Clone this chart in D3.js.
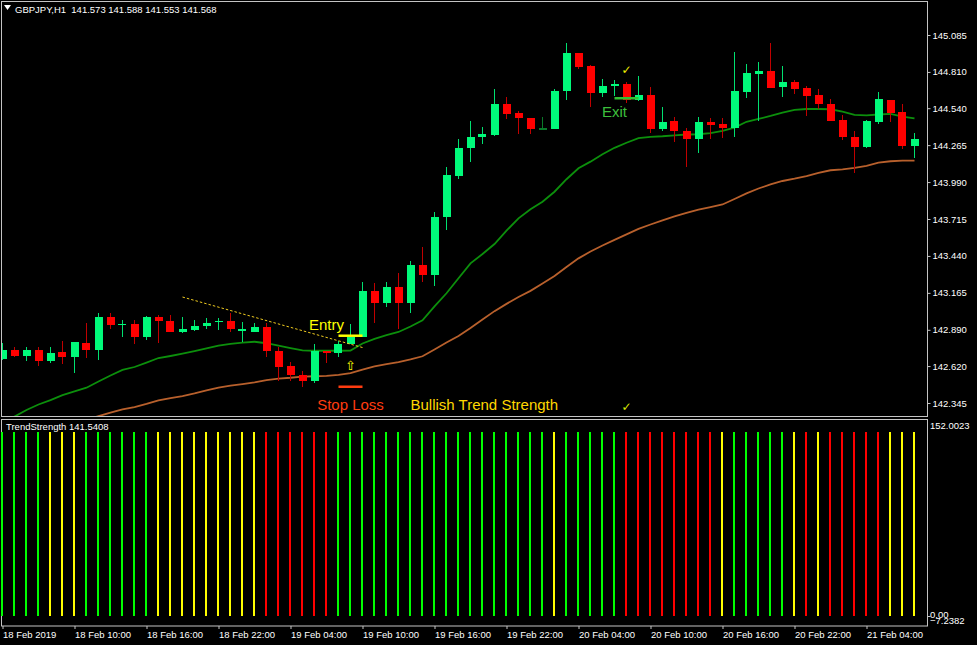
<!DOCTYPE html>
<html><head><meta charset="utf-8">
<script src="https://cdn.jsdelivr.net/npm/d3@7"></script>
<style>html,body{margin:0;padding:0;background:#000;overflow:hidden}
text{font-family:"Liberation Sans",Arial,sans-serif}</style>
</head><body><svg id="c" width="977" height="645"></svg>
<script>
// ---------- DATA ----------
const symbolHeader = "GBPJPY,H1  141.573 141.588 141.553 141.568";
const indicatorName = "TrendStrength 141.5408";
const times = d3.timeHour.range(new Date(2019,1,18,4), new Date(2019,1,21,9)); // 77 hourly candles
const timeTickLabels = ["18 Feb 2019","18 Feb 10:00","18 Feb 16:00","18 Feb 22:00","19 Feb 04:00","19 Feb 10:00",
  "19 Feb 16:00","19 Feb 22:00","20 Feb 04:00","20 Feb 10:00","20 Feb 16:00","20 Feb 22:00","21 Feb 04:00"];
const priceTicks = [142.345,142.620,142.890,143.165,143.440,143.715,143.990,144.265,144.540,144.810,145.085];

const openP = [142.675,142.740,142.697,142.737,142.660,142.727,142.690,142.794,142.737,142.985,
142.928,142.933,142.839,142.988,142.958,142.876,142.889,142.918,142.946,142.956,
142.886,142.876,142.913,142.734,142.621,142.554,142.511,142.734,142.720,142.782,
142.839,143.179,143.092,143.209,143.087,143.373,143.298,143.728,144.037,144.241,
144.326,144.340,144.571,144.502,144.467,144.389,144.387,144.666,144.949,144.854,
144.655,144.708,144.720,144.601,144.636,144.385,144.445,144.372,144.311,144.437,
144.422,144.390,144.663,144.795,144.819,144.700,144.733,144.690,144.636,144.571,
144.452,144.328,144.249,144.440,144.601,144.512,144.261];
const highP = [142.792,142.762,142.762,142.762,142.760,142.807,142.797,142.943,143.015,143.015,
142.961,142.961,142.993,143.000,143.000,142.985,142.961,142.976,142.980,143.017,
142.948,142.938,142.938,142.764,142.652,142.585,142.784,142.734,142.807,142.931,
143.244,143.236,143.244,143.311,143.402,143.503,143.765,144.100,144.309,144.445,
144.400,144.685,144.623,144.521,144.467,144.472,144.681,145.023,144.949,144.864,
144.757,144.752,144.733,144.780,144.698,144.547,144.472,144.390,144.472,144.465,
144.465,144.956,144.869,144.886,145.023,144.854,144.750,144.708,144.683,144.609,
144.489,144.370,144.452,144.661,144.601,144.571,144.353];
const lowP = [142.665,142.688,142.660,142.621,142.645,142.635,142.566,142.680,142.665,142.894,
142.834,142.784,142.814,142.790,142.874,142.864,142.879,142.894,142.889,142.871,
142.801,142.876,142.690,142.511,142.511,142.466,142.496,142.645,142.690,142.782,
142.839,142.943,143.062,142.894,143.013,143.248,143.218,143.633,144.013,144.142,
144.276,144.333,144.462,144.350,144.348,144.387,144.387,144.601,144.830,144.551,
144.626,144.631,144.576,144.596,144.358,144.372,144.291,144.104,144.209,144.308,
144.320,144.323,144.618,144.447,144.688,144.626,144.646,144.482,144.532,144.447,
144.303,144.060,144.244,144.425,144.440,144.236,144.171];
const closeP = [142.740,142.697,142.740,142.660,142.720,142.690,142.797,142.737,142.985,142.928,
142.935,142.839,142.988,142.956,142.876,142.894,142.918,142.943,142.956,142.894,
142.894,142.913,142.734,142.611,142.554,142.511,142.734,142.720,142.782,142.839,
143.179,143.092,143.209,143.092,143.373,143.298,143.732,144.043,144.244,144.328,
144.346,144.571,144.499,144.465,144.387,144.389,144.668,144.949,144.849,144.655,
144.708,144.722,144.601,144.636,144.387,144.440,144.370,144.311,144.440,144.415,
144.390,144.668,144.800,144.819,144.693,144.733,144.683,144.633,144.571,144.447,
144.323,144.253,144.445,144.609,144.507,144.258,144.311];
const fastMA = [142.196,142.244,142.293,142.334,142.367,142.404,142.431,142.459,142.505,142.550,
142.591,142.613,142.646,142.680,142.695,142.712,142.731,142.751,142.772,142.786,
142.795,142.801,142.790,142.772,142.754,142.737,142.734,142.734,142.734,142.736,
142.788,142.823,142.851,142.874,142.915,142.961,143.064,143.162,143.274,143.385,
143.454,143.529,143.628,143.720,143.787,143.844,143.918,144.011,144.093,144.142,
144.197,144.245,144.283,144.317,144.326,144.331,144.338,144.344,144.346,144.355,
144.372,144.396,144.439,144.460,144.482,144.507,144.527,144.534,144.534,144.532,
144.515,144.491,144.487,144.493,144.497,144.478,144.465];
const slowMA = [null,null,null,null,null,null,null,142.221,142.247,142.273,
142.298,142.315,142.338,142.364,142.382,142.397,142.416,142.439,142.460,142.474,
142.486,142.498,142.516,142.527,142.533,142.542,142.544,142.547,142.555,142.567,
142.594,142.618,142.635,142.650,142.669,142.693,142.743,142.795,142.844,142.903,
142.967,143.029,143.083,143.134,143.180,143.235,143.291,143.358,143.422,143.473,
143.518,143.560,143.601,143.641,143.674,143.705,143.734,143.760,143.784,143.804,
143.823,143.864,143.906,143.942,143.972,143.998,144.015,144.035,144.059,144.078,
144.085,144.095,144.110,144.134,144.145,144.149,144.149];
// TrendStrength histogram: state per candle (G = bullish, Y = neutral, R = bearish)
const trendState = ["G","G","G","G","Y","Y","Y","G","G","G","G","G","G","Y","Y","Y","Y","Y","Y","Y",
"Y","Y","R","R","R","R","R","R","G","G","G","G","G","G","G","G","G","G","G","G",
"G","G","G","G","G","G","Y","G","G","G","G","G","R","R","R","R","R","R","R","R",
"Y","G","G","G","G","G","Y","R","Y","R","R","R","R","R","Y","Y","Y"];
const trendValue = 141.5408;
const indMax = 152.0023, indMin = -7.2382;
// Annotations (candle index, price)
const trendLine = [{i:15,p:143.134},{i:30,p:142.758}];
const entryLevel = {from:28,to:30,p:142.846};
const stopLevel = {from:28,to:30,p:142.466};
const exitLevel = {from:51,to:53,p:144.614};

// ---------- DRAW ----------
const svg = d3.select("#c");
svg.append("rect").attr("width",977).attr("height",645).attr("fill","#000");
const frameCol = "#c4c4c4";
const x = d3.scaleLinear().domain([0,76]).range([2.5,914.5]);
const y = d3.scaleLinear().domain([142.345,145.085]).range([403,35]);
const yi = d3.scaleLinear().domain([indMin,indMax]).range([625.4,418.4]);

svg.append("defs").append("clipPath").attr("id","mainClip")
  .append("rect").attr("x",2).attr("y",2).attr("width",925).attr("height",414);

const main = svg.append("g").attr("clip-path","url(#mainClip)");

// moving averages
const lineGen = d3.line().defined(d=>d!=null).x((d,i)=>x(i)).y(d=>y(d));
main.append("path").attr("d",lineGen(slowMA)).attr("fill","none").attr("stroke","#b8602c").attr("stroke-width",1.8);
main.append("path").attr("d",lineGen(fastMA)).attr("fill","none").attr("stroke","#0c8f0c").attr("stroke-width",1.8);

// candles
const idx = d3.range(openP.length);
const cg = main.append("g").attr("shape-rendering","crispEdges");
idx.forEach(i=>{
  const c = x(i);
  const bull = closeP[i] > openP[i], bear = closeP[i] < openP[i];
  const wickCol = bull ? "#00e070" : bear ? "#c00000" : "#0a7a2a";
  const bodyCol = bull ? "#00fa7a" : bear ? "#ff0000" : "#0a7a2a";
  cg.append("line").attr("x1",Math.floor(c)+0.5).attr("x2",Math.floor(c)+0.5)
    .attr("y1",y(highP[i])).attr("y2",y(lowP[i])).attr("stroke",wickCol).attr("stroke-width",1);
  const top = y(Math.max(openP[i],closeP[i])), bot = y(Math.min(openP[i],closeP[i]));
  cg.append("rect").attr("x",Math.round(c-4)).attr("width",8)
    .attr("y",top).attr("height",Math.max(1.3,bot-top)).attr("fill",bodyCol);
});

// annotations
main.append("path").attr("d",d3.line().x(d=>x(d.i)).y(d=>y(d.p))(trendLine))
  .attr("stroke","#f0cc20").attr("stroke-width",1).attr("stroke-dasharray","2.5,2").attr("fill","none");
const lvl = (o,col)=> main.append("line").attr("x1",x(o.from)).attr("x2",x(o.to))
  .attr("y1",y(o.p)).attr("y2",y(o.p)).attr("stroke",col).attr("stroke-width",2.5);
lvl(entryLevel,"#ffff00"); lvl(stopLevel,"#ff3c10"); lvl(exitLevel,"#32c032");

const ann = main.append("g").style("font-size","15px");
ann.append("text").attr("x",x(27)).attr("y",y(142.892)).attr("text-anchor","middle").attr("fill","#ffff00").text("Entry");
ann.append("text").attr("x",x(29)).attr("y",y(142.293)).attr("text-anchor","middle").attr("fill","#ff3c10").text("Stop Loss");
ann.append("text").attr("x",x(34)).attr("y",y(142.293)).attr("fill","#ffd700").text("Bullish Trend Strength");
ann.append("text").attr("x",x(51)).attr("y",y(144.471)).attr("text-anchor","middle").attr("fill","#3cbf3c").text("Exit");
ann.append("text").attr("x",x(29)).attr("y",y(142.594)).attr("text-anchor","middle").attr("fill","#ffff00")
  .style("font-size","13px").style("font-family","DejaVu Sans").text("⇧");
ann.append("text").attr("x",x(52)).attr("y",y(144.793)).attr("text-anchor","middle").attr("fill","#f0f000")
  .style("font-size","12px").style("font-family","DejaVu Sans").text("✓");
ann.append("text").attr("x",x(52)).attr("y",y(142.285)).attr("text-anchor","middle").attr("fill","#d8e800")
  .style("font-size","12px").style("font-family","DejaVu Sans").text("✓");

// frames
svg.append("rect").attr("x",1.5).attr("y",1.5).attr("width",926).attr("height",415)
  .attr("fill","none").attr("stroke",frameCol);
svg.append("rect").attr("x",1.5).attr("y",419.5).attr("width",926).attr("height",206.5)
  .attr("fill","none").attr("stroke",frameCol);

// price axis
const pa = svg.append("g").attr("transform","translate(927.5,0)")
  .call(d3.axisRight(y).tickValues(priceTicks).tickSize(3).tickPadding(2).tickFormat(d3.format(".3f")));
pa.select(".domain").remove();
pa.selectAll("line").attr("stroke",frameCol);
pa.selectAll("text").attr("fill","#fff").style("font-size","9.5px").style("font-family","Liberation Sans");

// header
svg.append("path").attr("d","M4,5 L11,5 L7.5,10 Z").attr("fill","#fff");
svg.append("text").attr("x",15).attr("y",12.5).attr("fill","#fff").style("font-size","9.5px")
  .attr("xml:space","preserve").style("white-space","pre").text(symbolHeader);

// indicator bars
const barCol = {G:"#00ff00",Y:"#ffff00",R:"#ff0000"};
svg.append("g").attr("shape-rendering","crispEdges").selectAll("rect").data(trendState).join("rect")
  .attr("x",(d,i)=>Math.floor(x(i))-1).attr("width",2)
  .attr("y",yi(trendValue)).attr("height",yi(0)-yi(trendValue))
  .attr("fill",d=>barCol[d]);
svg.append("text").attr("x",6).attr("y",430).attr("fill","#fff").style("font-size","9.5px").text(indicatorName);

// indicator axis labels (the two bottom labels overlap in the original too)
const ia = svg.append("g").style("font-size","9.5px");
ia.append("line").attr("x1",927.5).attr("x2",930.5).attr("y1",Math.round(yi(0))+0.5).attr("y2",Math.round(yi(0))+0.5).attr("stroke",frameCol);
ia.append("text").attr("x",930).attr("y",yi(indMax)+7.5).attr("dy","0.32em").attr("fill","#fff").text(d3.format(".4f")(indMax));
ia.append("text").attr("x",930).attr("y",yi(0)-1).attr("dy","0.32em").attr("fill","#fff").text(d3.format(".2f")(0));
ia.append("text").attr("x",930).attr("y",yi(indMin)-4.2).attr("dy","0.32em").attr("fill","#fff").text(d3.format(".4f")(indMin));

// time axis
const tickIdx = idx.filter(i=>i%6===0);
const ta = svg.append("g").attr("transform","translate(0,626)")
  .call(d3.axisBottom(x).tickValues(tickIdx).tickSize(3).tickPadding(2)
    .tickFormat(i=>timeTickLabels[tickIdx.indexOf(i)]));
ta.select(".domain").remove();
ta.selectAll("line").attr("stroke",frameCol);
ta.selectAll("text").attr("fill","#fff").attr("text-anchor","start").attr("x",0)
  .style("font-size","9.5px").style("font-family","Liberation Sans");
</script></body></html>
